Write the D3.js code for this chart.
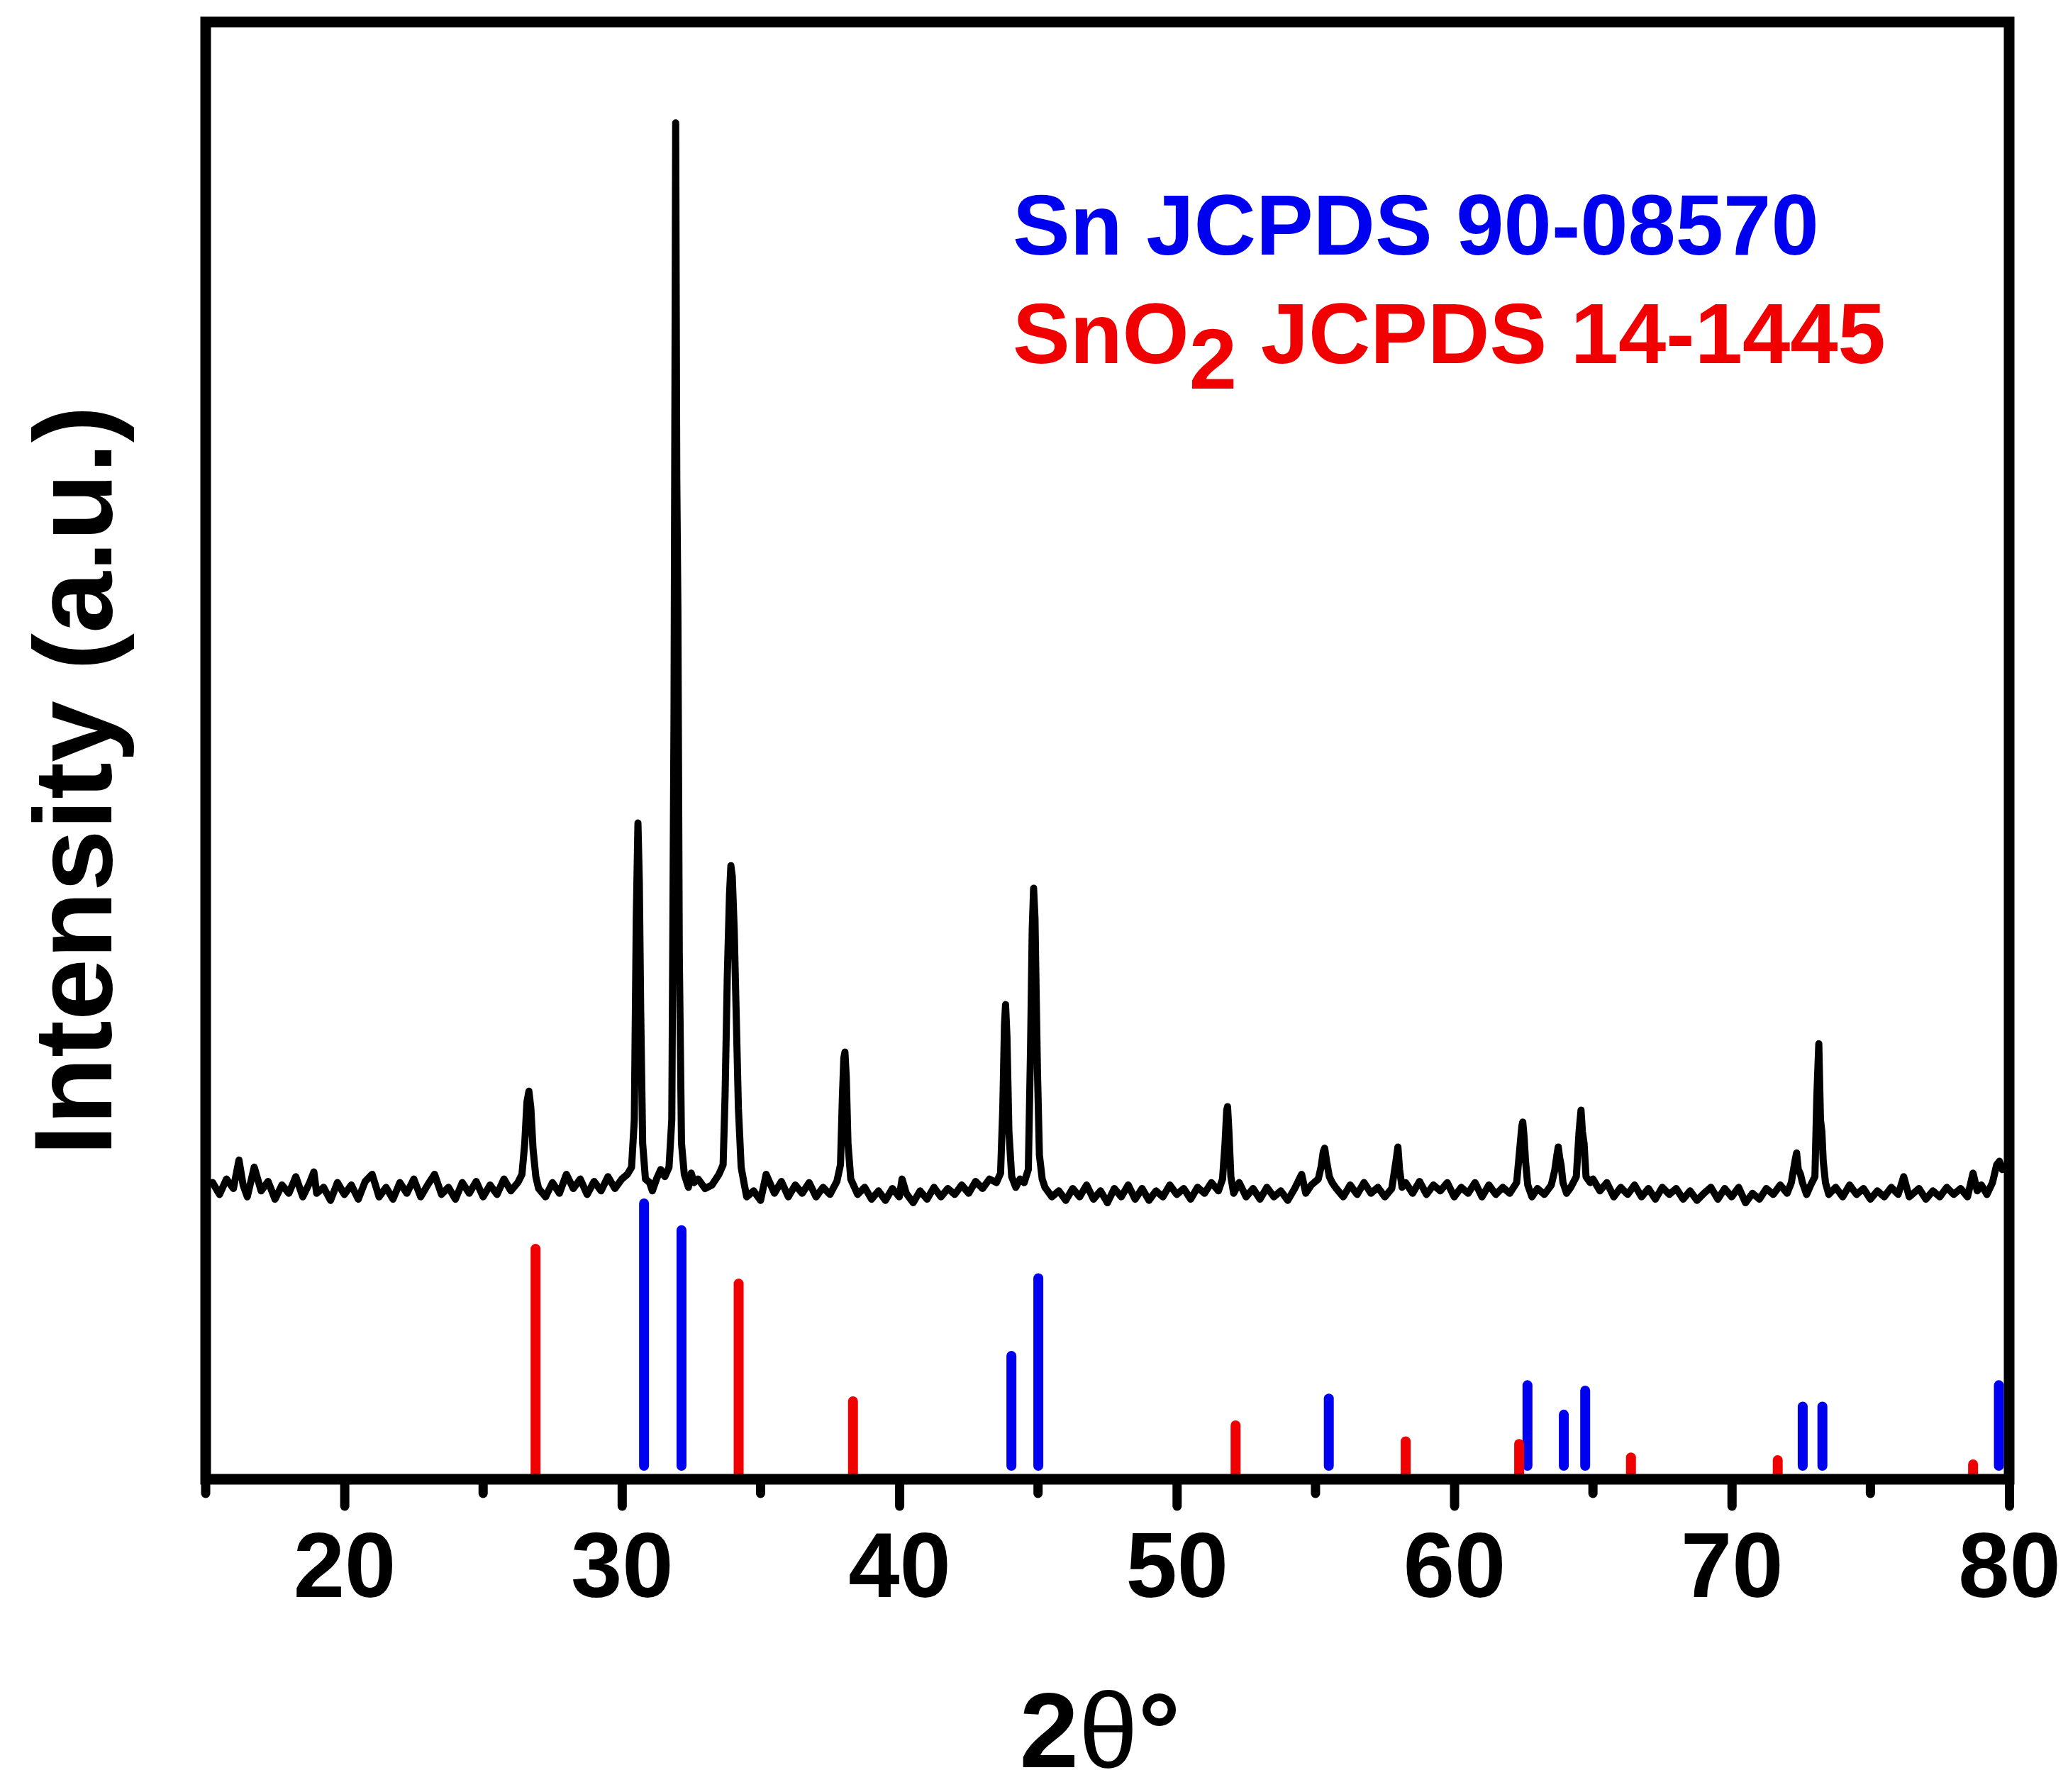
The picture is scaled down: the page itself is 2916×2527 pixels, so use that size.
<!DOCTYPE html>
<html>
<head>
<meta charset="utf-8">
<script src="https://cdn.jsdelivr.net/npm/d3@7"></script>
<style>
  body { margin: 0; background: #fff; }
  text { font-family: Arial, 'Liberation Sans', sans-serif; font-weight: bold; }
</style>
</head>
<body>
<div id="chart"><svg width="2916" height="2527"></svg></div>
<script>
// measured XRD scan: [2theta, counts]
var xrdScan = [
  [15.2,105],[15.25,107],[15.5,97],[15.75,110],[16.0,102],[16.2,126],[16.35,105],[16.5,95],[16.75,120],[17.0,100],
  [17.25,108],[17.5,93],[17.75,105],[18.0,98],[18.25,112],[18.5,95],[18.75,107],[18.9,116],[19.0,98],[19.25,103],
  [19.5,92],[19.75,107],[20.0,97],[20.25,105],[20.5,93],[20.75,108],[21.0,114],[21.25,95],[21.5,103],[21.75,93],
  [22.0,107],[22.25,98],[22.5,110],[22.75,95],[23.0,105],[23.25,114],[23.5,97],[23.75,103],[24.0,93],[24.25,107],
  [24.5,98],[24.75,108],[25.0,95],[25.25,105],[25.5,97],[25.75,110],[26.0,100],[26.25,107],
  [26.4,114],[26.5,140],[26.58,175],[26.65,184],[26.72,170],[26.8,135],[26.9,112],[27.0,102],
  [27.25,95],[27.5,107],[27.75,98],[28.0,114],[28.25,102],[28.5,110],[28.75,97],[29.0,108],[29.25,100],[29.5,112],
  [29.75,102],[30.0,110],[30.2,114],[30.35,120],
  [30.45,160],[30.52,330],[30.58,410],[30.63,360],[30.68,250],[30.75,140],[30.85,110],[31.0,107],[31.1,100],
  [31.25,110],[31.4,118],[31.55,112],[31.7,120],[31.8,160],[31.88,500],[31.94,1000],[31.98,700],[32.02,590],
  [32.07,300],[32.15,140],[32.25,114],[32.4,103],[32.5,115],[32.6,107],[32.75,110],[33.0,102],[33.25,105],
  [33.5,114],[33.65,122],
  [33.72,180],[33.8,280],[33.88,350],[33.93,374],[33.98,365],[34.05,320],[34.12,250],[34.2,170],[34.3,120],
  [34.4,107],[34.5,95],[34.75,100],[35.0,92],[35.2,114],[35.5,98],[35.75,108],[36.0,95],[36.25,105],[36.5,98],
  [36.75,107],[37.0,95],[37.25,103],[37.5,97],[37.75,108],
  [37.88,122],[37.95,180],[38.0,212],[38.04,217],[38.09,195],[38.15,140],[38.25,110],[38.5,97],[38.75,103],
  [39.0,93],[39.25,100],[39.5,92],[39.75,102],[40.0,95],[40.1,110],[40.25,98],[40.5,90],[40.75,100],[41.0,93],
  [41.25,103],[41.5,95],[41.75,102],[42.0,97],[42.25,105],[42.5,98],[42.75,108],[43.0,102],[43.25,110],
  [43.5,107],[43.65,115],
  [43.73,170],[43.79,240],[43.83,257],[43.88,230],[43.95,150],[44.05,112],[44.2,103],[44.35,110],[44.5,107],
  [44.65,118],[44.73,220],[44.79,320],[44.84,355],[44.89,330],[44.93,270],[44.98,200],[45.05,130],[45.15,110],
  [45.25,103],[45.5,95],[45.75,100],[46.0,92],[46.25,102],[46.5,95],[46.75,105],[47.0,93],[47.25,100],[47.5,90],
  [47.75,102],[48.0,95],[48.25,105],[48.5,93],[48.75,102],[49.0,92],[49.25,100],[49.5,95],[49.75,105],[50.0,97],
  [50.25,102],[50.5,93],[50.75,103],[51.0,98],[51.25,107],[51.5,100],[51.65,110],
  [51.74,140],[51.8,168],[51.83,171],[51.88,150],[51.95,112],[52.05,98],[52.25,107],[52.5,95],[52.75,102],
  [53.0,93],[53.25,103],[53.5,95],[53.75,100],[54.0,92],[54.25,102],[54.5,114],[54.65,98],[54.85,105],[55.1,110],
  [55.2,120],[55.28,133],[55.33,136],[55.4,125],[55.5,112],[55.6,107],[55.75,102],[56.0,95],[56.25,105],
  [56.5,97],[56.75,107],[57.0,98],[57.25,103],[57.5,95],[57.75,102],
  [57.9,125],[57.97,137],[58.03,118],[58.12,103],[58.25,107],[58.5,98],[58.75,108],[59.0,97],[59.25,105],
  [59.5,100],[59.75,107],[60.0,95],[60.25,103],[60.5,98],[60.75,107],[61.0,95],[61.25,105],[61.5,97],[61.75,103],
  [62.0,98],[62.25,107],
  [62.38,140],[62.44,155],[62.47,158],[62.52,145],[62.57,125],[62.65,105],[62.8,95],[63.0,102],[63.25,97],
  [63.5,105],[63.62,117],[63.7,130],[63.75,137],[63.8,128],[63.85,122],[63.92,107],[64.05,98],[64.2,103],
  [64.4,112],[64.5,150],[64.57,168],[64.62,150],[64.68,140],[64.75,112],[64.9,107],[65.0,110],[65.25,100],
  [65.5,107],[65.75,95],[66.0,103],[66.25,97],[66.5,105],[66.75,95],[67.0,102],[67.25,93],[67.5,103],[67.75,97],
  [68.0,102],[68.25,93],[68.5,100],[68.75,92],[69.0,98],[69.25,103],[69.5,93],[69.75,102],[70.0,95],[70.25,103],
  [70.5,90],[70.75,98],[71.0,93],[71.25,102],[71.5,97],[71.75,105],[72.0,98],[72.15,107],
  [72.28,125],[72.34,132],[72.4,118],[72.48,114],[72.55,107],[72.7,97],[72.85,105],[73.0,112],
  [73.07,180],[73.14,224],[73.2,160],[73.25,150],[73.3,125],[73.38,107],[73.5,97],[73.75,103],[74.0,95],
  [74.25,105],[74.5,97],[74.75,102],[75.0,93],[75.25,100],[75.5,95],[75.75,103],[76.0,97],[76.2,112],[76.4,95],
  [76.75,102],[77.0,93],[77.25,100],[77.5,95],[77.75,103],[78.0,97],[78.25,102],[78.5,95],[78.7,115],[78.85,100],
  [79.0,105],[79.2,97],[79.4,107],[79.55,122],[79.65,125],[79.75,118],[79.9,122]
];

// reference sticks (relative intensity)
var snAngles = [30.80, 32.15, 44.04, 45.01, 55.48, 62.64, 63.95, 64.72, 72.56, 73.27, 79.63];
var snIntensity = [100, 90, 43, 72, 27, 32, 21, 30, 24, 24, 32];
var sno2Angles = [26.89, 34.21, 38.33, 52.12, 58.25, 62.34, 66.37, 71.66, 78.70];
var sno2Intensity = [83, 70, 26, 17, 11, 10, 5, 4, 2.4];

var xTicks = [20, 30, 40, 50, 60, 70, 80];
var xMinorTicks = [15, 25, 35, 45, 55, 65, 75];

var margin = { top: 31, left: 290, right: 83, bottom: 441 };
var width = 2916 - margin.left - margin.right;
var height = 2527 - margin.top - margin.bottom;

var svg = d3.select('#chart > svg');
var group = svg.append('g')
	.attr('transform', 'translate(' + [ margin.left, margin.top ] + ')');

var xScale = d3.scaleLinear()
	.domain([ 15, 80 ])
	.range([ 0, width ]);
var yScale = d3.scaleLinear()
	.domain([ -143, 1085 ])
	.range([ height, 0 ]);
var stickScale = d3.scaleLinear()
	.domain([ 0, 100 ])
	.range([ height - 19, height - 396 ]);

group.append('clipPath').attr('id', 'plotClip')
	.append('rect')
	.attr('width', width)
	.attr('height', height);

// scan
var line = d3.line()
	.x(function(d) { return xScale(d[0]) })
	.y(function(d) { return yScale(d[1]) });
group.append('path')
	.datum(xrdScan)
	.attr('clip-path', 'url(#plotClip)')
	.attr('d', line)
	.attr('fill', 'none')
	.attr('stroke', '#000')
	.attr('stroke-width', 10)
	.attr('stroke-linejoin', 'round');

// Sn sticks
var capHalf = 7;
group.append('g').selectAll('line')
	.data(d3.zip(snAngles, snIntensity))
	.enter()
	.append('line')
	.attr('x1', function(d) { return xScale(d[0]) })
	.attr('x2', function(d) { return xScale(d[0]) })
	.attr('y1', stickScale(0))
	.attr('y2', function(d) { return stickScale(d[1]) + capHalf })
	.attr('stroke', '#0000f0')
	.attr('stroke-width', 14)
	.attr('stroke-linecap', 'round');

// SnO2 sticks
group.append('g').selectAll('line')
	.data(d3.zip(sno2Angles, sno2Intensity))
	.enter()
	.append('line')
	.attr('x1', function(d) { return xScale(d[0]) })
	.attr('x2', function(d) { return xScale(d[0]) })
	.attr('y1', height)
	.attr('y2', function(d) { return stickScale(d[1]) + capHalf })
	.attr('stroke', '#f00000')
	.attr('stroke-width', 14)
	.attr('stroke-linecap', 'round');

// frame
group.append('rect')
	.attr('width', width)
	.attr('height', height)
	.attr('fill', 'none')
	.attr('stroke', '#000')
	.attr('stroke-width', 15);

// x axis
var xAxis = group.append('g')
	.attr('class', 'x axis')
	.attr('transform', 'translate(0,' + height + ')')
	.call(d3.axisBottom(xScale).tickValues(xTicks).tickSizeInner(38).tickSizeOuter(0));
xAxis.select('.domain').remove();
xAxis.selectAll('.tick line')
	.attr('stroke', '#000')
	.attr('stroke-width', 13)
	.attr('stroke-linecap', 'round');
xAxis.selectAll('.tick text')
	.attr('y', 166)
	.attr('dy', 0)
	.attr('fill', '#000')
	.style('font-size', '130px')
	.style('font-family', "Arial, 'Liberation Sans', sans-serif")
	.style('font-weight', 'bold');

group.append('g').selectAll('line')
	.data(xMinorTicks)
	.enter()
	.append('line')
	.attr('x1', function(d) { return xScale(d) })
	.attr('x2', function(d) { return xScale(d) })
	.attr('y1', height)
	.attr('y2', height + 20)
	.attr('stroke', '#000')
	.attr('stroke-width', 13)
	.attr('stroke-linecap', 'round');

// axis titles
svg.append('text')
	.attr('x', 1551)
	.attr('y', 2492)
	.attr('text-anchor', 'middle')
	.style('font-size', '150px')
	.html('2<tspan style="font-weight:normal">θ</tspan>°');

svg.append('text')
	.attr('transform', 'translate(157,1101) rotate(-90)')
	.attr('text-anchor', 'middle')
	.style('font-size', '156px')
	.text('Intensity (a.u.)');

// legend
svg.append('text')
	.attr('x', 1428)
	.attr('y', 359)
	.attr('fill', '#0000f0')
	.style('font-size', '121px')
	.text('Sn JCPDS 90-08570');

var sno2Label = svg.append('text')
	.attr('x', 1428)
	.attr('y', 512)
	.attr('fill', '#f00000')
	.style('font-size', '121px');
sno2Label.append('tspan').text('SnO');
sno2Label.append('tspan').attr('dy', 36).text('2');
sno2Label.append('tspan').attr('dy', -36).text(' JCPDS 14-1445');
</script>
</body>
</html>
